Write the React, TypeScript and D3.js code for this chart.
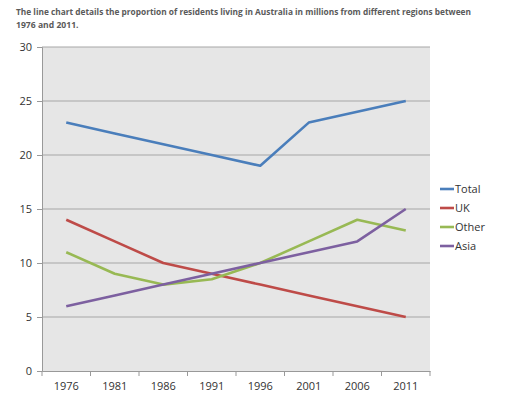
import * as d3 from 'd3';
import { useEffect, useRef } from 'react';

const years = ['1976', '1981', '1986', '1991', '1996', '2001', '2006', '2011'];
const total = [23, 22, 21, 20, 19, 23, 24, 25];
const uk = [14, 12, 10, 9, 8, 7, 6, 5];
const other = [11, 9, 8, 8.5, 10, 12, 14, 13];
const asia = [6, 7, 8, 9, 10, 11, 12, 15];
const yTicks = [0, 5, 10, 15, 20, 25, 30];

const seriesNames = ['Total', 'UK', 'Other', 'Asia'];
const seriesColors = ['#4a7ebb', '#be4b48', '#98b954', '#7d60a0'];

export default function App() {
  const svgRef = useRef<SVGSVGElement | null>(null);

  useEffect(() => {
    if (!svgRef.current) return;
    const width = 512;
    const height = 402;
    const m = { left: 42, right: 82, top: 47, bottom: 31 };

    const svg = d3.select(svgRef.current);
    svg.selectAll('*').remove();
    svg.attr('width', width).attr('height', height).attr('font-family', '"Open Sans", sans-serif');

    svg.append('rect').attr('width', width).attr('height', height).attr('fill', '#fff');

    // titulo
    const title = svg.append('text')
      .attr('fill', '#5a5a5a')
      .attr('font-size', 8.6)
      .attr('font-weight', 'bold');
    title.append('tspan').attr('x', 16).attr('y', 15)
      .attr('textLength', 455).attr('lengthAdjust', 'spacingAndGlyphs')
      .text('The line chart details the proportion of residents living in Australia in millions from different regions between');
    title.append('tspan').attr('x', 16).attr('y', 28).text('1976 and 2011.');

    const x = d3.scaleBand<string>().domain(years).range([m.left, width - m.right]);
    const y = d3.scaleLinear().domain([0, 30]).range([height - m.bottom, m.top]);

    svg.append('rect')
      .attr('x', m.left).attr('y', m.top)
      .attr('width', width - m.left - m.right)
      .attr('height', height - m.top - m.bottom)
      .attr('fill', '#e6e6e6');

    // grid
    svg.append('g')
      .selectAll('line')
      .data(yTicks.filter(t => t > 0))
      .join('line')
      .attr('x1', m.left).attr('x2', width - m.right)
      .attr('y1', d => y(d)).attr('y2', d => y(d))
      .attr('stroke', '#a6a6a6').attr('stroke-width', 1);

    // ejes
    const yAxis = svg.append('g')
      .attr('transform', `translate(${m.left},0)`)
      .call(d3.axisLeft(y).tickValues(yTicks).tickSize(5).tickPadding(5));
    yAxis.select('.domain').attr('stroke', '#999');
    yAxis.selectAll('.tick line').attr('stroke', '#999');
    yAxis.selectAll('.tick text').attr('fill', '#333').attr('font-size', 11).attr('font-family', '"Open Sans", sans-serif');

    const xAxis = svg.append('g')
      .attr('transform', `translate(0,${height - m.bottom})`)
      .call(d3.axisBottom(x).tickSize(0).tickPadding(11));
    xAxis.select('.domain').attr('stroke', '#999');
    xAxis.selectAll('.tick text').attr('fill', '#333').attr('font-size', 11).attr('font-family', '"Open Sans", sans-serif');
    // marcas entre categorias
    xAxis.append('g')
      .selectAll('line')
      .data(d3.range(years.length + 1))
      .join('line')
      .attr('x1', i => m.left + i * x.step()).attr('x2', i => m.left + i * x.step())
      .attr('y1', 0).attr('y2', 5)
      .attr('stroke', '#999');

    const data = [total, uk, other, asia];
    const line = d3.line<number>()
      .x((_, i) => x(years[i])! + x.bandwidth() / 2)
      .y(d => y(d));

    svg.append('g')
      .selectAll('path')
      .data(data)
      .join('path')
      .attr('d', d => line(d))
      .attr('fill', 'none')
      .attr('stroke', (_, i) => seriesColors[i])
      .attr('stroke-width', 2.6)
      .attr('stroke-linejoin', 'round');

    // leyenda
    const legend = svg.append('g')
      .selectAll('g')
      .data(seriesNames)
      .join('g')
      .attr('transform', (_, i) => `translate(440,${189 + i * 19})`);
    legend.append('line')
      .attr('x1', 0).attr('x2', 14)
      .attr('stroke', (_, i) => seriesColors[i])
      .attr('stroke-width', 2.6);
    legend.append('text')
      .attr('x', 15).attr('dy', '0.35em')
      .attr('fill', '#333').attr('font-size', 11)
      .text(d => d);
  }, []);

  return (
    <div style={{ position: 'absolute', left: 0, top: 0 }}>
      <svg ref={svgRef} style={{ display: 'block' }} />
    </div>
  );
}
